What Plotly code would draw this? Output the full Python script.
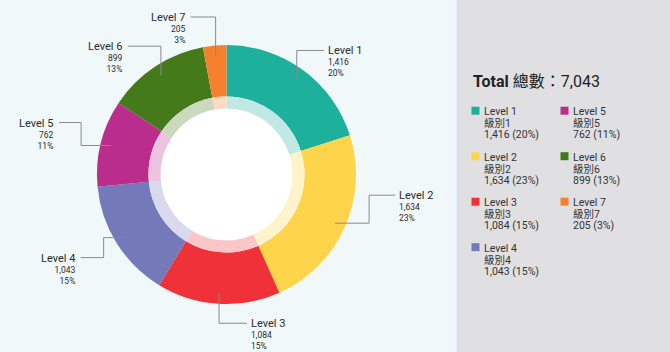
import plotly.graph_objects as go
import math

# ---- data ----
levels = ["Level 1", "Level 2", "Level 3", "Level 4", "Level 5", "Level 6", "Level 7"]
levels_zh = ["級別1", "級別2", "級別3", "級別4", "級別5", "級別6", "級別7"]
counts = [1416, 1634, 1084, 1043, 762, 899, 205]
colors = ["#1db19d", "#fed44a", "#ee3237", "#7479ba", "#bb2d8c", "#447a19", "#f6802e"]

W, H = 670, 352
total = sum(counts)
pcts = [round(v / total * 100) for v in counts]


def fmt(n):
    return f"{n:,}"


def blend(hexcol, a):
    r, g, b = (int(hexcol[i:i + 2], 16) for i in (1, 3, 5))
    r, g, b = (round(255 - a * (255 - c)) for c in (r, g, b))
    return f"rgb({r},{g},{b})"


def px(x):
    return x / W


def py(y):
    return 1 - y / H


# geometry (pixels)
CX, CY = 226.5, 174.5
R_OUT, R_MID, R_HOLE = 129.5, 78.0, 66.0


def dom(r):
    return dict(x=[px(CX - r), px(CX + r)], y=[py(CY + r), py(CY - r)])


fig = go.Figure()
fig.add_trace(go.Pie(
    labels=levels, values=counts, sort=False, direction="clockwise", rotation=0,
    hole=R_MID / R_OUT, domain=dom(R_OUT), textinfo="none", showlegend=False,
    marker=dict(colors=colors, line=dict(width=0)), hoverinfo="label+value+percent"))
fig.add_trace(go.Pie(
    labels=levels, values=counts, sort=False, direction="clockwise", rotation=0,
    hole=R_HOLE / R_MID, domain=dom(R_MID), textinfo="none", showlegend=False,
    marker=dict(colors=[blend(c, 0.28) for c in colors], line=dict(width=0)),
    hoverinfo="skip"))

shapes = []
annotations = []

# background panel + white centre
shapes.append(dict(type="rect", xref="paper", yref="paper", x0=px(457), x1=1, y0=0, y1=1,
                   fillcolor="#e0e0e2", line=dict(width=0), layer="below"))
shapes.append(dict(type="rect", xref="paper", yref="paper", x0=px(455.5), x1=px(457), y0=0, y1=1,
                   fillcolor="#e8f1f5", line=dict(width=0), layer="below"))
shapes.append(dict(type="circle", xref="paper", yref="paper",
                   x0=px(CX - R_HOLE), x1=px(CX + R_HOLE), y0=py(CY + R_HOLE), y1=py(CY - R_HOLE),
                   fillcolor="white", line=dict(width=0), layer="below"))

# leader-line routes (pixel steps from the anchor), side of the label
routes = [
    ([(0, -28), (27, 0)], "right"),
    ([(34, 0), (0, -28), (26, 0)], "right"),
    ([(0, 30), (28, 0)], "right"),
    ([(-22, 0), (0, 20), (-23, 0)], "left"),
    ([(-30, 0), (0, -23), (-22, 0)], "left"),
    ([(0, -29), (-33, 0)], "left"),
    ([(0, -39), (-25, 0)], "left"),
]
R_ANCH = 119
cum = 0
for i, v in enumerate(counts):
    mid = (cum + v / 2) / total * 2 * math.pi
    cum += v
    ax = CX + R_ANCH * math.sin(mid)
    ay = CY - R_ANCH * math.cos(mid)
    pts = [(ax, ay)]
    for dx, dy in routes[i][0]:
        x, y = pts[-1]
        pts.append((x + dx, y + dy))
    path = "M " + " L ".join(f"{px(x)},{py(y)}" for x, y in pts)
    shapes.append(dict(type="path", xref="paper", yref="paper", path=path,
                       line=dict(color="#8a8a8a", width=1)))
    ex, ey = pts[-1]
    side = routes[i][1]
    tx = ex + 2 if side == "right" else ex - 3
    xa = "left" if side == "right" else "right"
    txt = (f"<span style='font-size:11px'>{levels[i]}</span><br>"
           f"{fmt(v)}<br>{pcts[i]}%")
    annotations.append(dict(xref="paper", yref="paper", x=px(tx), y=py(ey - 8),
                            xanchor=xa, yanchor="top", showarrow=False, text=txt,
                            align=xa, font=dict(size=8.5, color="#2b2b2b")))

# total title
annotations.append(dict(xref="paper", yref="paper", x=px(471), y=py(81), xanchor="left",
                        yanchor="middle", showarrow=False,
                        text="<b>Total</b> 總數：" + fmt(total),
                        font=dict(size=16, color="#222222",
                                  family="Roboto, 'Noto Sans CJK TC', sans-serif")))

# legend
col_x = [471.5, 560.5]
row_y = [110.7, 156.2, 201.7, 247.2]
for i in range(len(levels)):
    c, r = (0, i) if i < 4 else (1, i - 4)
    sx, sy = col_x[c], row_y[r]
    shapes.append(dict(type="rect", xref="paper", yref="paper", x0=px(sx), x1=px(sx + 8),
                       y0=py(sy + 4), y1=py(sy - 4), fillcolor=colors[i],
                       line=dict(width=0)))
    txt = (f"<span style='font-size:10.5px'>{levels[i]}<br>{levels_zh[i]}<br>"
           f"{fmt(counts[i])} ({pcts[i]}%)</span>")
    annotations.append(dict(xref="paper", yref="paper", x=px(sx + 10.5), y=py(sy - 7.5),
                            xanchor="left", yanchor="top", showarrow=False, text=txt,
                            align="left", font=dict(size=9, color="#333333")))

fig.update_layout(
    width=W, height=H, margin=dict(l=0, r=0, t=0, b=0),
    paper_bgcolor="#f1f8fa", plot_bgcolor="#f1f8fa",
    font=dict(family="Roboto, 'Noto Sans CJK TC', sans-serif", color="#333333"),
    shapes=shapes, annotations=annotations, showlegend=False,
)
fig.write_html("out.html")
